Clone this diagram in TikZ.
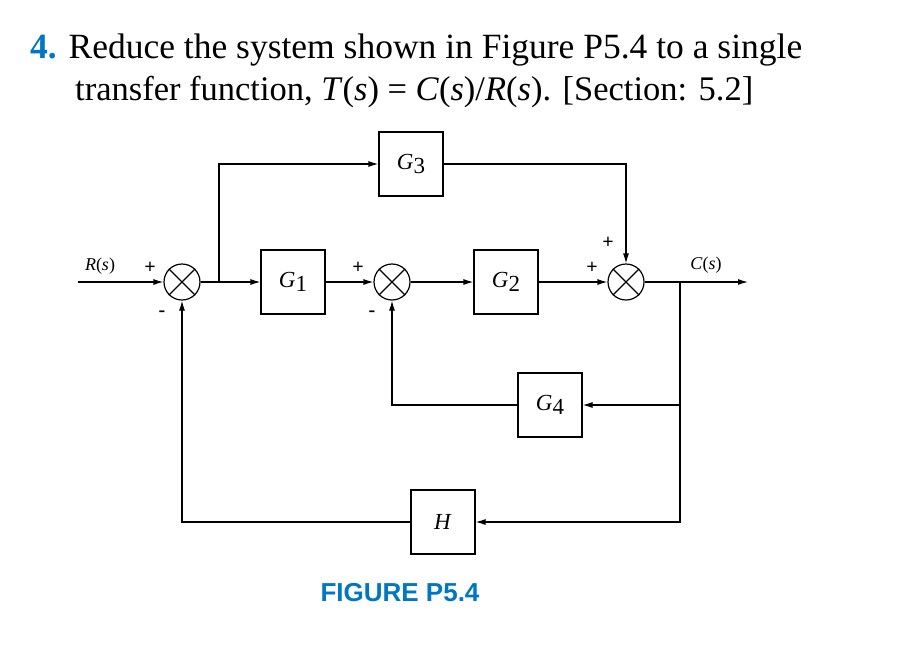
\documentclass[tikz,border=0pt]{standalone}
\usepackage{fontspec}
\setmainfont{Liberation Serif}
\newfontfamily\figsans{Liberation Sans}
\usetikzlibrary{arrows.meta}
\definecolor{tblue}{RGB}{0,118,196}
\begin{document}
\begin{tikzpicture}[x=1pt,y=-1pt,
  blk/.style={draw,line width=1.2pt,minimum width=64pt,minimum height=64pt,inner sep=0pt,font=\fontsize{23}{24}\selectfont},
  sum/.style={draw,line width=1.2pt,circle,minimum size=36pt,inner sep=0pt},
  ln/.style={line width=1.2pt},
  ar/.style={ln,-{Latex[length=10pt,width=6pt]}},
  sg/.style={font=\fontsize{20}{20}\selectfont\bfseries}]
\useasboundingbox (0,0) rectangle (923,665);
\node[anchor=west,font=\fontsize{35.5}{38}\selectfont,inner sep=0pt] (t1) at (30,50) {\textcolor{tblue}{\textbf{4.}} Reduce the system shown in Figure P5.4 to a single};
\node[anchor=west,font=\fontsize{34.5}{38}\selectfont,inner sep=0pt] (t2) at (75,92) {transfer function, \textit{T}(\textit{s}) = \textit{C}(\textit{s})/\textit{R}(\textit{s}). [Section: 5.2]};
\node[sum] (s1) at (182,282) {};
\node[sum] (s2) at (392,282) {};
\node[sum] (s3) at (626,282) {};
\foreach \s in {s1,s2,s3}{
 \draw[ln] (\s.north west)--(\s.south east) (\s.north east)--(\s.south west);}
\node[blk] (g1) at (293,282) {\textit{G}\raisebox{-4pt}{1}};
\node[blk] (g2) at (506,282) {\textit{G}\raisebox{-4pt}{2}};
\node[blk] (g3) at (411,164) {\textit{G}\raisebox{-4pt}{3}};
\node[blk] (g4) at (550,405) {\textit{G}\raisebox{-4pt}{4}};
\node[blk] (h) at (443,522) {\textit{H}};
\coordinate (rin) at (78,282);
\coordinate (cout) at (748,282);
\coordinate (br) at (219,282);
\coordinate (co) at (680,282);
\node[font=\fontsize{18}{18}\selectfont] (rl) at (100,266) {\textit{R}(\textit{s})};
\node[font=\fontsize{18}{18}\selectfont] (cl) at (706,265) {\textit{C}(\textit{s})};
\draw[ar] (rin)--(s1);
\draw[ar] (s1)--(g1);
\draw[ar] (g1)--(s2);
\draw[ar] (s2)--(g2);
\draw[ar] (g2)--(s3);
\draw[ar] (s3)--(cout);
\draw[ar] (br)|-(g3);
\draw[ar] (g3)-|(s3);
\draw[ar] (co)|-(g4);
\draw[ar] (g4)-|(s2);
\draw[ar] (co)|-(h);
\draw[ar] (h)-|(s1);
\node[sg] (p1) at (150,268) {+};
\node[sg] (m1) at (162,314) {-};
\node[sg] (p2) at (358,268) {+};
\node[sg] (m2) at (372,314) {-};
\node[sg] (p3) at (608,243) {+};
\node[sg] (p4) at (592,268) {+};
\node[font=\figsans\fontsize{26}{26}\selectfont\bfseries,text=tblue] (fig) at (400,593) {FIGURE P5.4};
\end{tikzpicture}
\end{document}
